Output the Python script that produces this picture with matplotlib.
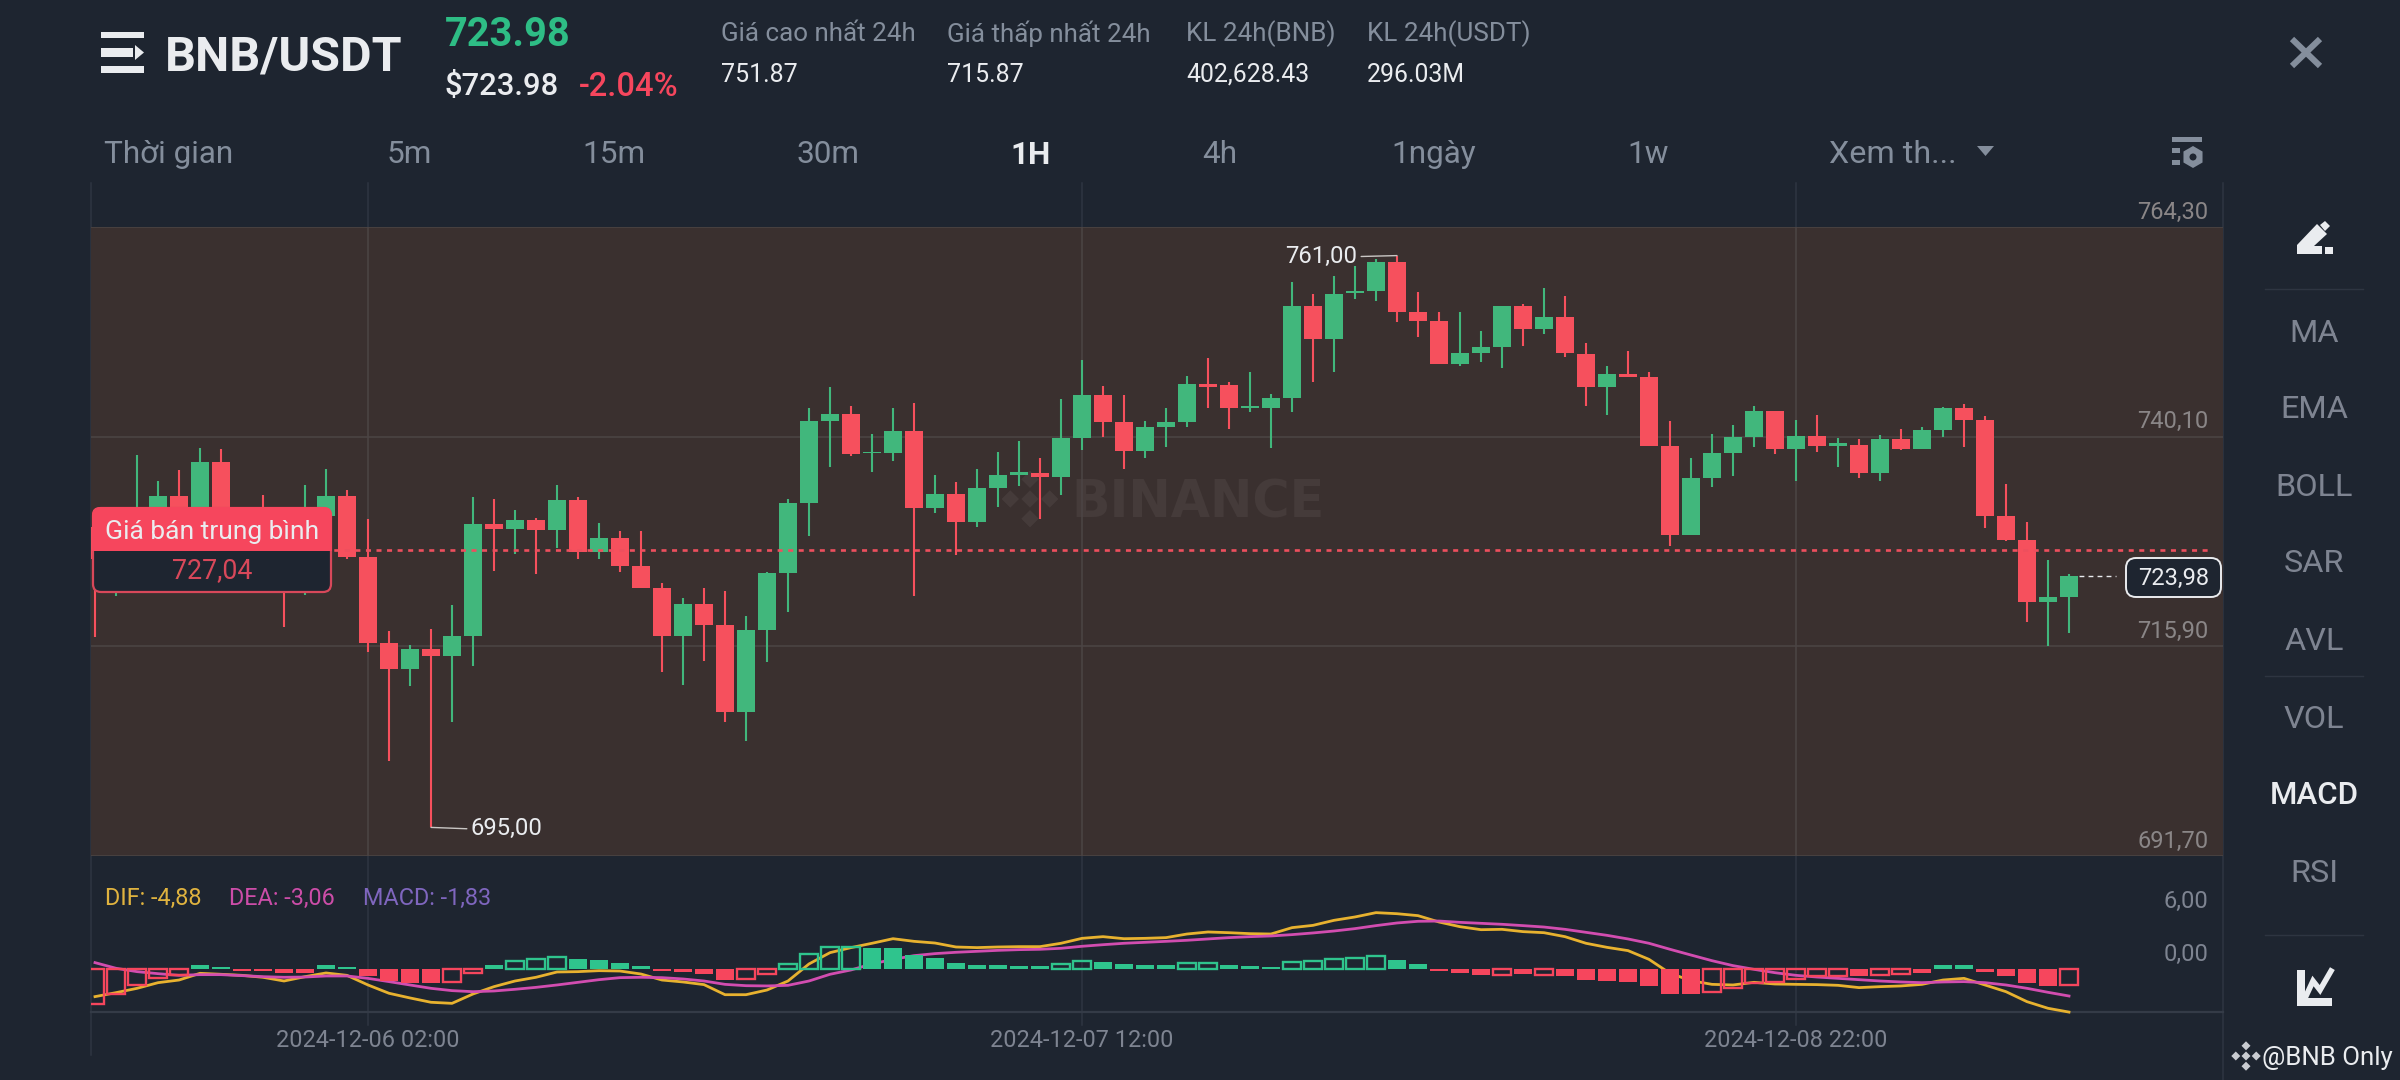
import matplotlib
matplotlib.use("Agg")
import matplotlib.pyplot as plt
from matplotlib.patches import Rectangle, FancyBboxPatch, Polygon, RegularPolygon, Circle
from matplotlib.transforms import Affine2D

plt.rcParams['font.family'] = ['Roboto', 'DejaVu Sans']

# ---------- data (1h candles, first = 2024-12-05 13:00) ----------
opens = [729.67,725.55,728.02,730.91,733.26,730.49,737.17,730.08,731.32,729.26,728.02,730.91,
 733.26,726.17,716.31,713.26,715.57,714.83,717.05,730.04,729.42,730.49,729.34,732.80,726.78,
 728.39,725.22,722.66,717.09,720.76,718.37,708.27,717.76,724.31,732.47,741.96,742.70,738.20,
 738.24,740.76,731.81,733.46,730.21,734.16,735.73,735.89,735.48,739.99,744.92,741.75,738.41,
 741.17,741.79,746.16,746.03,743.44,743.44,744.59,755.15,751.40,756.63,756.96,760.30,754.49,
 753.42,748.51,749.71,750.49,755.15,752.47,753.95,749.63,745.82,747.28,746.94,739.02,728.77,
 735.37,738.26,740.10,743.06,738.68,740.18,739.06,739.14,735.87,739.83,738.64,740.87,743.44,
 741.98,730.96,728.12,721.01,721.58]
closes = [725.96,728.87,731.32,733.26,730.91,737.17,729.67,728.87,729.26,725.96,732.02,733.26,
 726.17,716.31,713.26,715.57,714.83,717.05,730.04,729.42,730.49,729.34,732.80,726.78,728.39,
 725.22,722.66,717.09,720.76,718.37,708.27,717.76,724.31,732.47,741.96,742.70,738.12,738.37,
 740.76,731.81,733.46,730.21,734.16,735.69,735.98,735.48,739.93,744.92,741.79,738.41,741.17,
 741.79,746.16,745.87,743.44,743.65,744.59,755.15,751.40,756.59,756.96,760.30,754.49,753.42,
 748.51,749.71,750.41,755.15,752.47,753.95,749.71,745.82,747.28,746.94,739.02,728.77,735.37,
 738.26,740.10,743.06,738.68,740.18,739.02,739.33,735.87,739.83,738.64,740.87,743.44,741.98,
 730.96,728.12,721.01,721.58,723.98]
highs = [731.73,730.91,737.99,735.03,736.26,738.82,738.62,731.52,733.38,730.91,734.49,736.35,
 733.92,730.58,717.71,716.06,717.92,720.72,733.09,732.85,731.65,730.66,734.57,733.13,730.16,
 729.17,729.22,723.24,721.51,722.66,722.29,719.36,724.43,732.85,743.40,745.87,743.69,740.39,
 743.40,743.97,735.73,734.82,736.35,738.33,739.56,737.67,744.47,748.96,745.95,744.96,741.96,
 743.44,747.11,749.21,746.37,747.56,745.01,757.99,756.55,758.65,759.76,760.59,761.00,756.80,
 754.49,754.49,752.30,755.23,755.39,757.25,756.34,750.94,748.24,749.97,747.51,741.94,737.60,
 740.37,741.41,743.63,743.06,742.02,742.63,739.95,739.79,740.25,740.98,741.17,743.56,743.83,
 742.44,734.65,730.30,725.81,724.24]
lows = [717.01,721.75,723.90,729.67,730.08,729.26,728.43,728.02,728.02,718.12,721.84,729.26,
 725.96,715.24,702.67,711.32,695.00,707.12,713.67,724.64,726.58,724.23,727.28,725.96,725.96,
 724.52,722.66,712.97,711.40,714.17,707.12,705.02,714.09,719.86,728.68,736.60,737.92,736.06,
 737.30,721.75,731.32,726.45,729.67,732.02,734.41,730.58,733.38,738.53,740.06,736.39,737.59,
 738.90,741.17,743.36,741.01,742.90,738.74,742.94,746.41,747.56,755.97,755.72,753.37,751.60,
 748.51,748.30,748.68,747.98,750.61,751.97,749.29,743.60,742.60,746.94,739.02,727.50,728.77,
 734.34,735.57,738.95,738.06,734.99,738.30,736.64,735.34,734.99,738.52,738.64,740.02,738.95,
 729.57,728.04,718.67,715.90,717.44]
dif = [-3.13,-2.68,-2.19,-1.55,-1.25,-0.49,-0.60,-0.72,-0.94,-1.36,-0.87,-0.45,-0.72,-1.81,-2.75,
 -3.28,-3.77,-3.89,-2.83,-2.00,-1.36,-0.94,-0.34,-0.30,-0.19,-0.23,-0.57,-1.25,-1.47,-1.77,-2.91,
 -2.91,-2.38,-1.36,0.57,1.85,2.42,2.91,3.43,3.13,2.94,2.49,2.42,2.49,2.53,2.53,2.91,3.47,3.66,3.43,
 3.47,3.55,3.96,4.19,4.11,4.00,3.96,4.68,4.94,5.51,5.89,6.38,6.26,6.04,5.32,4.79,4.45,4.49,4.23,
 4.11,3.66,2.91,2.45,2.08,1.09,-0.49,-1.32,-1.74,-1.81,-1.51,-1.70,-1.74,-1.77,-1.85,-2.11,-2.00,
 -1.92,-1.74,-1.25,-1.06,-1.81,-2.57,-3.70,-4.45,-4.88]
dea = [0.72,0.08,-0.30,-0.53,-0.72,-0.64,-0.64,-0.75,-0.87,-0.94,-0.91,-0.79,-0.79,-1.06,-1.43,
 -1.81,-2.19,-2.45,-2.57,-2.49,-2.30,-2.08,-1.81,-1.51,-1.21,-0.98,-0.94,-0.98,-1.13,-1.36,-1.74,
 -1.89,-1.92,-1.85,-1.36,-0.60,-0.11,0.57,1.09,1.51,1.74,1.89,2.00,2.11,2.19,2.23,2.34,2.57,2.75,
 2.91,3.02,3.13,3.25,3.40,3.55,3.66,3.74,3.89,4.08,4.30,4.57,4.91,5.21,5.40,5.43,5.28,5.17,5.06,
 4.91,4.75,4.49,4.15,3.81,3.40,2.91,2.23,1.58,0.94,0.38,-0.04,-0.42,-0.72,-0.91,-1.06,-1.21,-1.36,
 -1.47,-1.55,-1.47,-1.43,-1.55,-1.81,-2.19,-2.64,-3.06]
hist = [-4.00,-2.83,-1.81,-0.98,-0.68,0.45,0.26,-0.28,-0.28,-0.45,-0.45,0.41,0.26,-0.79,-1.36,
 -1.55,-1.62,-1.47,-0.45,0.41,0.90,1.09,1.40,1.09,1.02,0.68,0.34,-0.26,-0.34,-0.57,-1.28,-1.17,
 -0.57,0.60,1.74,2.49,2.49,2.42,2.34,1.58,1.21,0.64,0.45,0.42,0.34,0.30,0.53,0.94,0.83,0.53,0.49,
 0.42,0.68,0.72,0.45,0.30,0.26,0.83,0.87,1.17,1.28,1.47,0.98,0.57,-0.26,-0.45,-0.68,-0.64,-0.60,
 -0.72,-0.79,-1.25,-1.36,-1.47,-1.96,-2.83,-2.83,-2.64,-2.19,-1.62,-1.43,-1.17,-0.79,-0.75,-0.83,
 -0.68,-0.57,-0.42,0.45,0.45,-0.30,-0.83,-1.55,-1.89,-1.83]
hollow_idx = [0,1,2,3,4,17,18,20,21,22,31,32,33,34,35,36,46,47,52,53,57,58,59,60,61,67,69,
 77,78,79,80,81,82,83,85,86,94]

tick_idx = [13, 47, 81]
tick_labels = ["2024-12-06 02:00", "2024-12-07 12:00", "2024-12-08 22:00"]
price_ticks = [764.30, 740.10, 715.90, 691.70]
macd_ticks = [6.0, 0.0]
avg_price = 727.04
last_price = 723.98
price_high, price_high_idx = 761.00, 62
price_low, price_low_idx = 695.00, 16
tabs = ["5m", "15m", "30m", "1H", "4h", "1ngày", "1w"]
rail = ["MA", "EMA", "BOLL", "SAR", "AVL", "VOL", "MACD", "RSI"]

# ---------- style ----------
BG = '#1E2530'; PANEL = '#3A302F'; GRID = '#4C4545'; GRID_BG = '#2E3541'
GREEN = '#41B77C'; RED = '#F6505D'; MGREEN = '#2FC48D'; MRED = '#F6465D'
GRAY = '#848E9C'; WHITE = '#EAECEF'; MARK = '#453B3A'

W, H = 2400, 1080
STEP = 21.0
fig = plt.figure(figsize=(24, 10.8), dpi=100, facecolor=BG)

def box(l, t, r, b):
    return [l / W, 1 - b / H, (r - l) / W, (b - t) / H]

def chrome(z):
    a = fig.add_axes([0, 0, 1, 1], zorder=z)
    a.set_xlim(0, W); a.set_ylim(H, 0); a.axis('off'); a.patch.set_alpha(0)
    return a

PX_L, PX_R = 91, 2223
XL, XR = (PX_L - 95) / STEP, (PX_R - 95) / STEP
bg = chrome(0)
top = chrome(10)

# ---------- price panel ----------
ax = fig.add_axes(box(PX_L, 227, PX_R, 856), zorder=1, facecolor=PANEL)
ax.set_xlim(XL, XR); ax.set_ylim(691.7, 764.3)
for s in ax.spines.values():
    s.set_visible(False)
ax.set_axisbelow(True)
ax.grid(True, color=GRID, lw=1.1)
ax.set_xticks(tick_idx); ax.tick_params(axis='x', length=0, labelbottom=False)
ax.yaxis.tick_right()
ax.set_yticks(price_ticks)
ax.set_yticklabels([f"{v:.2f}".replace('.', ',') for v in price_ticks])
ax.tick_params(axis='y', length=0, direction='in', pad=-10.5, labelsize=17.0, labelcolor='#8A8687')
for lab in ax.get_yticklabels():
    lab.set_ha('right'); lab.set_va('bottom')
    lab.set_transform(lab.get_transform() + Affine2D().translate(0, 3.5))
    lab.set_clip_on(False)

# watermark
ax.text(1071, 503, "BINANCE", transform=top.transData, fontsize=36.5, fontweight='bold',
        family='DejaVu Sans', color=MARK, ha='left', va='center', zorder=0.5)

for i in range(len(opens)):
    up = closes[i] >= opens[i]
    col = GREEN if up else RED
    ax.vlines(i, lows[i], highs[i], color=col, lw=1.5, zorder=3)
    ax.bar(i, abs(closes[i] - opens[i]), bottom=min(opens[i], closes[i]), width=0.875,
           color=col, lw=0, zorder=3)

ax.axhline(avg_price, xmax=(2208 - PX_L) / (PX_R - PX_L), color='#EE4F5E', lw=1.9,
           linestyle=(0, (1.9, 2.1)), zorder=4)
ax.annotate("761,00", xy=(price_high_idx, price_high), xytext=(-40, -1), textcoords='offset pixels',
            ha='right', va='center', fontsize=17.2, color=WHITE, zorder=5,
            arrowprops=dict(arrowstyle='-', color='#C9C6C4', lw=1, shrinkA=1, shrinkB=0, relpos=(1, 0.5)))
ax.annotate("695,00", xy=(price_low_idx, price_low), xytext=(40, -1.5), textcoords='offset pixels',
            ha='left', va='center', fontsize=17.2, color=WHITE, zorder=5,
            arrowprops=dict(arrowstyle='-', color='#C9C6C4', lw=1, shrinkA=1, shrinkB=0, relpos=(0, 0.5)))
ax.plot([94.48, 96.24], [last_price, last_price], color=WHITE, lw=1, linestyle=(0, (3.5, 3)), zorder=4)

# ---------- MACD panel ----------
m = fig.add_axes(box(PX_L, 860, PX_R, 1012), zorder=2)
m.patch.set_alpha(0)
m.set_xlim(XL, XR); m.set_ylim(-4.87, 12.34)
for k, s in m.spines.items():
    s.set_visible(k == 'bottom')
m.spines['bottom'].set_color('#343B47'); m.spines['bottom'].set_linewidth(1.6)
m.plot(range(len(dif)), dif, color='#E8B22F', lw=2.0, zorder=3, clip_on=False)
m.plot(range(len(dea)), dea, color='#D24DB0', lw=2.0, zorder=3, clip_on=False)
for i, v in enumerate(hist):
    c = MGREEN if v >= 0 else MRED
    if i in hollow_idx:
        m.bar(i, v, width=0.87, fill=False, edgecolor=c, lw=1.7, zorder=4)
    else:
        m.bar(i, v, width=0.875, color=c, lw=0, zorder=4)
m.set_xticks(tick_idx); m.set_xticklabels(tick_labels)
m.tick_params(axis='x', length=0, pad=12, labelsize=16.9, labelcolor='#7E8491')
m.yaxis.tick_right()
m.set_yticks(macd_ticks)
m.set_yticklabels([f"{v:.2f}".replace('.', ',') for v in macd_ticks])
m.tick_params(axis='y', length=0, direction='in', pad=-10.5, labelsize=17.0, labelcolor='#7E8491')
for lab in m.get_yticklabels():
    lab.set_ha('right'); lab.set_va('bottom')
    lab.set_transform(lab.get_transform() + Affine2D().translate(0, 3.5))

# ---------- background lines ----------
for i in tick_idx:
    px = 95 + STEP * i
    bg.plot([px, px], [183, 1025], color=GRID_BG, lw=1.1)
bg.plot([PX_L, PX_L], [183, 1055], color=GRID_BG, lw=1.1)
bg.plot([PX_R, PX_R], [183, 1080], color=GRID_BG, lw=1.1)

# ---------- header ----------
def T(x, y, s, size, color=GRAY, ha='left', weight='normal', va='center'):
    top.text(x, y + 2, s, fontsize=size, color=color, ha=ha, va=va, fontweight=weight)

for (y0, y1) in [(32, 38), (66, 73)]:
    top.add_patch(Rectangle((101, y0), 43, y1 - y0, color=WHITE, lw=0))
top.add_patch(Rectangle((101, 48), 32, 9, color=WHITE, lw=0))
top.add_patch(Polygon([(135, 45), (144, 52.5), (135, 60)], color=WHITE, lw=0))
T(165, 56, "BNB/USDT", 34.8, WHITE, weight='bold')
T(445, 33, "723.98", 28.6, '#2EBD85', weight='bold')
T(445, 85, "$723.98", 22.3, WHITE, weight='medium')
T(579, 85, "-2.04%", 23.5, MRED, weight='medium')
stats = [(721, "Giá cao nhất 24h", "751.87"), (947, "Giá thấp nhất 24h", "715.87"),
         (1186, "KL 24h(BNB)", "402,628.43"), (1367, "KL 24h(USDT)", "296.03M")]
for x, a, b in stats:
    T(x, 32, a, 18.7, GRAY)
    T(x, 72.5, b, 17.9, WHITE)

# ---------- tabs ----------
T(104, 152.5, "Thời gian", 22.7, GRAY)
for cx, s in zip([409, 614, 828, 1031, 1220, 1434, 1648], tabs):
    if s == "1H":
        T(cx, 152.5, s, 22.7, WHITE, ha='center', weight='bold')
    else:
        T(cx, 152.5, s, 22.7, GRAY, ha='center')
T(1829, 152.5, "Xem th...", 23.2, GRAY)
top.add_patch(Polygon([(1977, 146), (1994, 146), (1985.5, 156)], color=GRAY, lw=0))
# settings icon
top.add_patch(Rectangle((2172, 137), 30, 5, color=GRAY, lw=0))
top.add_patch(Rectangle((2172, 148), 8, 5, color=GRAY, lw=0))
top.add_patch(Rectangle((2172, 160), 8, 5, color=GRAY, lw=0))
top.add_patch(RegularPolygon((2193, 157), 6, radius=11, color=GRAY, lw=0))
top.add_patch(Circle((2193, 157), 3.5, color=BG, lw=0))
# close
top.plot([2292, 2320], [39, 66], color=GRAY, lw=4.4, solid_capstyle='butt')
top.plot([2292, 2320], [66, 39], color=GRAY, lw=4.4, solid_capstyle='butt')

# ---------- right rail ----------
top.add_patch(Polygon([(2297, 254), (2297, 245), (2317, 224), (2327, 234), (2314, 246), (2322, 246),
                       (2322, 254)], color=WHITE, lw=0))
top.add_patch(Polygon([(2320, 225), (2325, 221), (2330, 226), (2325, 231)], color=WHITE, lw=0))
top.add_patch(Rectangle((2325, 247), 8, 7, color=WHITE, lw=0))
for yy in [289, 676, 935]:
    top.plot([2265, 2363], [yy, yy], color='#2E3541', lw=1)
for y, s in zip([331, 408, 485, 561, 639, 717, 794, 871], rail):
    if s == "MACD":
        T(2314, y, s, 22.6, WHITE, ha='center', weight='medium')
    else:
        T(2314, y, s, 23.4, '#7E8491', ha='center')
top.add_patch(Polygon([(2297, 970), (2305, 970), (2305, 998), (2332, 998), (2332, 1006), (2297, 1006)],
                      color=WHITE, lw=0))
top.plot([2306, 2313, 2320, 2331], [996, 981, 990, 971], color=WHITE, lw=4, solid_joinstyle='miter')

# ---------- tooltip & last price ----------
top.add_patch(FancyBboxPatch((93, 508), 238, 84, boxstyle="round,pad=0,rounding_size=8", fc=BG,
                             ec='#D8485A', lw=1.6))
top.add_patch(FancyBboxPatch((92, 507), 240, 44, boxstyle="round,pad=0,rounding_size=8", fc=MRED,
                             ec='none', lw=0))
top.add_patch(Rectangle((92, 535), 240, 16, color=MRED, lw=0))
T(212, 529.5, "Giá bán trung bình", 19.0, WHITE, ha='center')
T(212, 568.5, f"{avg_price:.2f}".replace('.', ','), 19.3, '#D8485A', ha='center')

top.add_patch(FancyBboxPatch((2126, 558), 95, 39, boxstyle="round,pad=0,rounding_size=10", fc=BG,
                             ec=WHITE, lw=1.4))
T(2173.5, 576, f"{last_price:.2f}".replace('.', ','), 17.0, WHITE, ha='center')

# ---------- MACD legend & credit ----------
T(105, 896, "DIF: -4,88", 16.8, '#E0B33F')
T(229, 896, "DEA: -3,06", 16.8, '#CC4DA8')
T(363, 896, "MACD: -1,83", 16.8, '#7F66BE')
T(2262, 1056, "@BNB Only", 18.6, WHITE)

def logo(a, cx, cy, s, color):
    r = s * 0.3
    for dx, dy in [(0, 0), (0, -s * 0.68), (0, s * 0.68), (-s * 0.68, 0), (s * 0.68, 0)]:
        p = Polygon([(cx + dx, cy + dy - r), (cx + dx + r, cy + dy), (cx + dx, cy + dy + r),
                     (cx + dx - r, cy + dy)], color=color, lw=0)
        if a is top:
            top.add_patch(p)
        else:
            p.set_transform(top.transData); p.set_zorder(0.5)
            ax.add_patch(p)
logo(top, 2246, 1056, 15, '#C9CCD1')
logo(ax, 1030, 499, 29, MARK)

fig.savefig("out.png", dpi=100, facecolor=BG)
